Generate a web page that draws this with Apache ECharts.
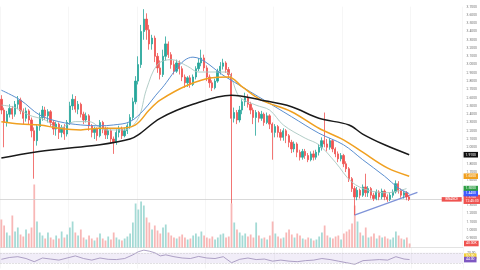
<!DOCTYPE html>
<html><head><meta charset="utf-8">
<script src="https://cdn.jsdelivr.net/npm/echarts@6/dist/echarts.min.js"></script>
<style>html,body{margin:0;padding:0;background:#fff}#c{width:480px;height:270px}</style>
</head><body><div id="c"></div><script>
// ---- data ----
// candles: [open, close, low, high]
const ohlc = [
[2.58,2.45,2.40,2.63],[2.45,2.30,2.00,2.48],[2.30,2.40,2.25,2.44],[2.40,2.47,2.36,2.52],[2.47,2.40,2.34,2.50],
[2.40,2.52,2.37,2.56],[2.52,2.57,2.46,2.62],[2.57,2.44,2.40,2.60],[2.44,2.35,2.28,2.47],[2.35,2.44,2.31,2.48],
[2.44,2.33,2.27,2.46],[2.33,2.20,2.12,2.36],[2.20,2.08,1.62,2.24],[2.08,2.25,2.02,2.28],[2.25,2.36,2.20,2.42],
[2.36,2.45,2.32,2.50],[2.45,2.38,2.33,2.49],[2.38,2.43,2.30,2.46],[2.43,2.30,2.25,2.45],[2.30,2.22,2.15,2.33],
[2.22,2.28,2.14,2.31],[2.28,2.18,2.10,2.30],[2.18,2.24,2.12,2.27],[2.24,2.16,2.09,2.28],[2.16,2.30,2.13,2.33],
[2.30,2.50,2.27,2.55],[2.50,2.58,2.45,2.64],[2.58,2.46,2.42,2.62],[2.46,2.52,2.40,2.56],[2.52,2.40,2.36,2.54],
[2.40,2.33,2.28,2.43],[2.33,2.38,2.30,2.42],[2.38,2.26,2.20,2.40],[2.26,2.18,2.12,2.28],[2.18,2.22,2.10,2.25],
[2.22,2.14,2.08,2.24],[2.14,2.30,2.12,2.33],[2.30,2.22,2.17,2.32],[2.22,2.15,2.10,2.25],[2.15,2.20,2.10,2.24],
[2.20,2.10,2.05,2.22],[2.10,2.06,1.92,2.13],[2.06,2.18,2.03,2.22],[2.18,2.22,2.12,2.26],[2.22,2.14,2.10,2.25],
[2.14,2.20,2.12,2.24],[2.20,2.26,2.16,2.29],[2.26,2.36,2.22,2.40],[2.36,2.55,2.33,2.60],[2.55,2.80,2.52,2.86],
[2.80,3.00,2.76,3.10],[3.00,3.40,2.96,3.48],[3.40,3.55,3.30,3.67],[3.55,3.42,3.30,3.62],[3.42,3.25,3.18,3.48],
[3.25,3.32,3.18,3.36],[3.32,3.10,3.03,3.35],[3.10,2.96,2.90,3.14],[2.96,2.88,2.82,3.05],[2.88,3.10,2.85,3.18],
[3.10,3.25,3.05,3.34],[3.25,3.12,3.08,3.28],[3.12,3.00,2.95,3.15],[3.00,2.92,2.88,3.05],[2.92,3.02,2.90,3.06],
[3.02,2.95,2.88,3.05],[2.95,2.85,2.80,2.98],[2.85,2.78,2.72,2.88],[2.78,2.84,2.73,2.86],[2.84,2.76,2.72,2.87],
[2.76,2.85,2.74,2.88],[2.85,2.95,2.82,2.98],[2.95,3.02,2.92,3.08],[3.02,3.08,2.98,3.18],[3.08,2.96,2.92,3.12],
[2.96,2.85,2.80,2.99],[2.85,2.78,2.72,2.88],[2.78,2.72,2.68,2.81],[2.72,2.80,2.70,2.83],[2.80,2.92,2.78,2.95],
[2.92,2.98,2.88,3.03],[2.98,3.02,2.94,3.07],[3.02,2.94,2.90,3.04],[2.94,2.88,2.84,2.97],[2.88,2.35,1.32,2.90],
[2.35,2.42,2.30,2.48],[2.42,2.33,2.28,2.45],[2.33,2.45,2.30,2.50],[2.45,2.55,2.40,2.58],[2.55,2.60,2.50,2.66],
[2.60,2.52,2.48,2.64],[2.52,2.45,2.40,2.55],[2.45,2.36,2.28,2.48],[2.36,2.42,2.14,2.45],[2.42,2.35,2.30,2.44],
[2.35,2.40,2.32,2.44],[2.40,2.30,2.26,2.42],[2.30,2.38,2.28,2.42],[2.38,2.28,2.22,2.40],[2.28,2.18,1.85,2.30],
[2.18,2.25,2.12,2.28],[2.25,2.18,2.12,2.27],[2.18,2.12,2.08,2.22],[2.12,2.20,2.08,2.23],[2.20,2.14,2.05,2.22],
[2.14,2.06,2.00,2.16],[2.06,1.98,1.93,2.09],[1.98,2.04,1.94,2.07],[2.04,1.94,1.88,2.06],[1.94,1.88,1.84,1.97],
[1.88,1.95,1.85,1.98],[1.95,1.90,1.86,1.98],[1.90,1.85,1.82,1.93],[1.85,1.92,1.83,1.95],[1.92,1.88,1.84,1.96],
[1.88,1.94,1.85,1.97],[1.94,2.00,1.90,2.04],[2.00,2.08,1.96,2.12],[2.08,2.04,2.00,2.42],[2.04,2.00,1.95,2.10],
[2.00,2.08,1.97,2.11],[2.08,1.98,1.94,2.10],[1.98,1.92,1.88,2.00],[1.92,1.86,1.82,1.95],[1.86,1.90,1.83,1.93],
[1.90,1.80,1.76,1.92],[1.80,1.74,1.70,1.83],[1.74,1.62,1.58,1.76],[1.62,1.50,1.46,1.64],[1.50,1.40,1.18,1.53],
[1.40,1.48,1.36,1.52],[1.48,1.42,1.38,1.50],[1.42,1.52,1.40,1.55],[1.52,1.45,1.40,1.68],[1.45,1.50,1.40,1.53],
[1.50,1.42,1.38,1.52],[1.42,1.38,1.35,1.45],[1.38,1.46,1.36,1.49],[1.46,1.40,1.36,1.48],[1.40,1.47,1.37,1.50],
[1.47,1.40,1.36,1.49],[1.40,1.37,1.34,1.43],[1.37,1.42,1.35,1.45],[1.42,1.46,1.39,1.49],[1.46,1.56,1.44,1.60],
[1.56,1.48,1.44,1.59],[1.48,1.42,1.39,1.50],[1.42,1.45,1.38,1.47],[1.45,1.40,1.36,1.47],[1.40,1.37,1.35,1.42]
];
const volumes = [
280,220,150,120,320,160,200,130,110,180,140,200,630,260,150,120,90,150,100,80,
120,90,160,100,130,200,260,150,120,180,100,80,120,90,70,100,140,90,70,110,
80,150,100,80,70,90,110,140,250,440,380,460,420,300,250,180,220,170,140,200,
230,150,120,100,90,110,130,100,80,90,120,140,110,160,120,100,90,110,80,100,
130,140,100,110,440,250,180,150,120,140,110,130,100,250,120,90,100,80,120,260,
140,110,90,100,150,180,130,100,140,120,90,80,100,90,70,80,110,150,220,120,
100,90,110,120,80,140,160,180,240,420,260,150,120,200,100,110,140,90,120,100,
110,90,80,100,160,120,90,80,100,40
];
// moving averages: sampled [candle index] and value
const ma20Idx = [0,5,10,16,21,27,32,38,45,50,53,57,62,68,72,82,87,93,98,103,111,116,122,128,134,141,148];
const ma20Val = [2.51,2.48,2.39,2.33,2.23,2.31,2.31,2.21,2.21,2.35,2.70,3.00,3.06,2.98,2.91,2.91,2.61,2.51,2.45,2.27,2.11,2.03,1.82,1.58,1.48,1.45,1.50];
const ma50Idx = [0,7,14,21,29,36,41,47,52,58,70,82,94,106,116,125,132,140,145,149];
const ma50Val = [2.69,2.57,2.39,2.31,2.27,2.26,2.27,2.31,2.45,2.69,3.09,2.85,2.61,2.37,2.17,2.03,1.85,1.65,1.51,1.44];
const ma100Idx = [0,7,14,21,29,36,43,49,54,58,68,77,83,88,95,106,116,125,132,141,149];
const ma100Val = [2.31,2.28,2.27,2.23,2.21,2.23,2.23,2.27,2.45,2.57,2.75,2.84,2.85,2.73,2.57,2.43,2.23,2.09,1.94,1.75,1.65];
const ma200Idx = [0,12,25,36,47,50,58,70,84,95,106,116,127,132,140,149];
const ma200Val = [1.87,1.94,1.99,2.03,2.10,2.15,2.35,2.52,2.63,2.57,2.49,2.35,2.27,2.16,2.03,1.91];
const rsiIdx = [0,3,6,9,12,15,18,21,24,27,30,33,36,39,42,45,48,50,52,54,56,58,60,63,66,69,72,75,78,81,84,87,90,93,96,99,102,105,108,111,114,117,120,123,126,129,132,135,138,141,144,147,149];
const rsiVal = [45,52,55,48,36,50,46,42,50,58,48,42,50,45,44,48,62,74,80,76,70,58,62,55,50,48,56,50,48,55,32,45,50,44,46,38,42,38,36,40,42,48,44,38,32,26,40,42,44,42,55,46,44];
const rsiMaLast = 57;
const trendLine = [[129,1.18],[152,1.455]];
const yTicks = {min:0.8, max:3.7, step:0.1};
const categories = [];
for (let i = 0; i < 169; i++) categories.push('D' + (i + 1));

// ---- chart ----
const GREEN = '#26a69a', RED = '#ef5350';
const FONT = 'Roboto';
const pairs = (a, b) => a.map((x, k) => [x, b[k]]);
const lastClose = ohlc[ohlc.length - 1][1];
const volData = volumes.map((v, i) => ({
  value: v,
  itemStyle: {color: ohlc[i][1] >= ohlc[i][0] ? 'rgba(38,166,154,0.42)' : 'rgba(239,83,80,0.42)'}
}));
function boxLabel(val, bg, txt) {
  return {
    yAxis: val,
    lineStyle: {color: 'rgba(0,0,0,0)', width: 0},
    label: {show: true, position: 'end', distance: 1, formatter: txt || val.toFixed(4),
      backgroundColor: bg, color: '#fff', fontSize: 3.4, fontFamily: FONT, padding: [1, 2], lineHeight: 3.6}
  };
}
function maSeries(name, idx, val, color, width, boxColor) {
  return {
    type: 'line', name, xAxisIndex: 0, yAxisIndex: 0, data: pairs(idx, val),
    smooth: 0.35, symbol: 'none', lineStyle: {color, width}, z: 4, silent: true,
    markLine: {symbol: ['none', 'none'], silent: true, data: [boxLabel(val[val.length - 1], boxColor)]}
  };
}
const chart = echarts.init(document.getElementById('c'), null, {renderer: 'canvas'});
chart.setOption({
  animation: false,
  backgroundColor: '#ffffff',
  textStyle: {fontFamily: FONT},
  grid: [
    {left: 0, right: 17, top: 6.7, height: 239.8},
    {left: 0, right: 17, top: 147.5, height: 100},
    {left: 0, right: 17, top: 247.5, height: 21}
  ],
  xAxis: [0, 1, 2].map(g => ({
    type: 'category', gridIndex: g, data: categories, boundaryGap: true,
    position: g === 2 ? 'top' : 'bottom',
    axisLabel: {show: false}, axisTick: {show: false},
    axisLine: {show: g === 2, lineStyle: {color: '#e3e3e3', width: 1}},
    splitLine: {show: g !== 1, interval: 24, lineStyle: {color: '#f6f6f6', width: 1}}
  })),
  yAxis: [
    {type: 'value', gridIndex: 0, position: 'right', min: yTicks.min, max: yTicks.max, interval: yTicks.step,
      axisLine: {show: false}, axisTick: {show: false}, splitLine: {show: false},
      axisLabel: {fontSize: 3.4, color: '#777', margin: 4, fontFamily: FONT,
        formatter: v => v < 0.85 ? '' : v.toFixed(4)}},
    {type: 'value', gridIndex: 1, min: 0, max: 1000, show: false},
    {type: 'value', gridIndex: 2, position: 'right', min: 10, max: 90, interval: 10,
      axisLine: {show: false}, axisTick: {show: false}, splitLine: {show: false},
      axisLabel: {fontSize: 3.4, color: '#777', margin: 4, fontFamily: FONT,
        formatter: v => Math.abs(v - 70) < 0.1 ? '70.00' : ''}}
  ],
  series: [
    {type: 'bar', name: 'Volume', xAxisIndex: 1, yAxisIndex: 1, data: volData, barWidth: '65%', z: 1, silent: true,
      markLine: {symbol: ['none', 'none'], silent: true,
        data: [boxLabel(volumes[volumes.length - 1], RED, volumes[volumes.length - 1].toFixed(2) + 'K')]}},
    {type: 'candlestick', name: 'Price', xAxisIndex: 0, yAxisIndex: 0, data: ohlc, barWidth: '65%', z: 3,
      itemStyle: {color: GREEN, color0: RED, borderColor: GREEN, borderColor0: RED, borderWidth: 0.8},
      markLine: {symbol: ['none', 'none'], silent: true, z: 2,
        data: [
          {yAxis: lastClose, lineStyle: {color: '#cfcfcf', width: 0.8, type: 'solid'},
            label: {show: true, position: 'end', distance: 1, formatter: lastClose.toFixed(4) + '\n12:45:30',
              backgroundColor: RED, color: '#fff', fontSize: 3.4, fontFamily: FONT, padding: [1, 2], lineHeight: 3.6}},
          [{coord: trendLine[0], lineStyle: {color: '#7f93d8', width: 1.2, type: 'solid'}, label: {show: false}},
           {coord: trendLine[1]}]
        ]},
      markPoint: {silent: true, data: [{coord: [168, lastClose], symbol: 'rect', symbolSize: [20, 4.5], symbolOffset: [-9.5, 0],
        itemStyle: {color: RED}, label: {show: true, formatter: 'BINANCE', color: '#fff', fontSize: 3, fontFamily: FONT}}]}
    },
    maSeries('MA20', ma20Idx, ma20Val, '#a9c7c1', 0.9, '#2e9e44'),
    maSeries('MA50', ma50Idx, ma50Val, '#5b8fd0', 1, '#3d5afe'),
    maSeries('MA100', ma100Idx, ma100Val, '#f0a020', 1.5, '#f0a020'),
    maSeries('MA200', ma200Idx, ma200Val, '#1a1a1a', 1.5, '#111111'),
    {type: 'line', name: 'RSI', xAxisIndex: 2, yAxisIndex: 2, data: pairs(rsiIdx, rsiVal), symbol: 'none',
      lineStyle: {color: '#9a8cb8', width: 0.8}, silent: true,
      markArea: {silent: true, itemStyle: {color: 'rgba(126,87,194,0.11)'}, data: [[{yAxis: 30}, {yAxis: 70}]]},
      markLine: {symbol: ['none', 'none'], silent: true, data: [
        {yAxis: 70, lineStyle: {color: '#c8c8c8', type: 'dashed', width: 0.5}, label: {show: false}},
        {yAxis: 30, lineStyle: {color: '#c8c8c8', type: 'dashed', width: 0.5}, label: {show: false}},
        boxLabel(rsiMaLast, '#f2cf3a', rsiMaLast.toFixed(2)),
        boxLabel(rsiVal[rsiVal.length - 1], '#7e57c2', rsiVal[rsiVal.length - 1].toFixed(2))
      ]}}
  ]
});
</script></body></html>
